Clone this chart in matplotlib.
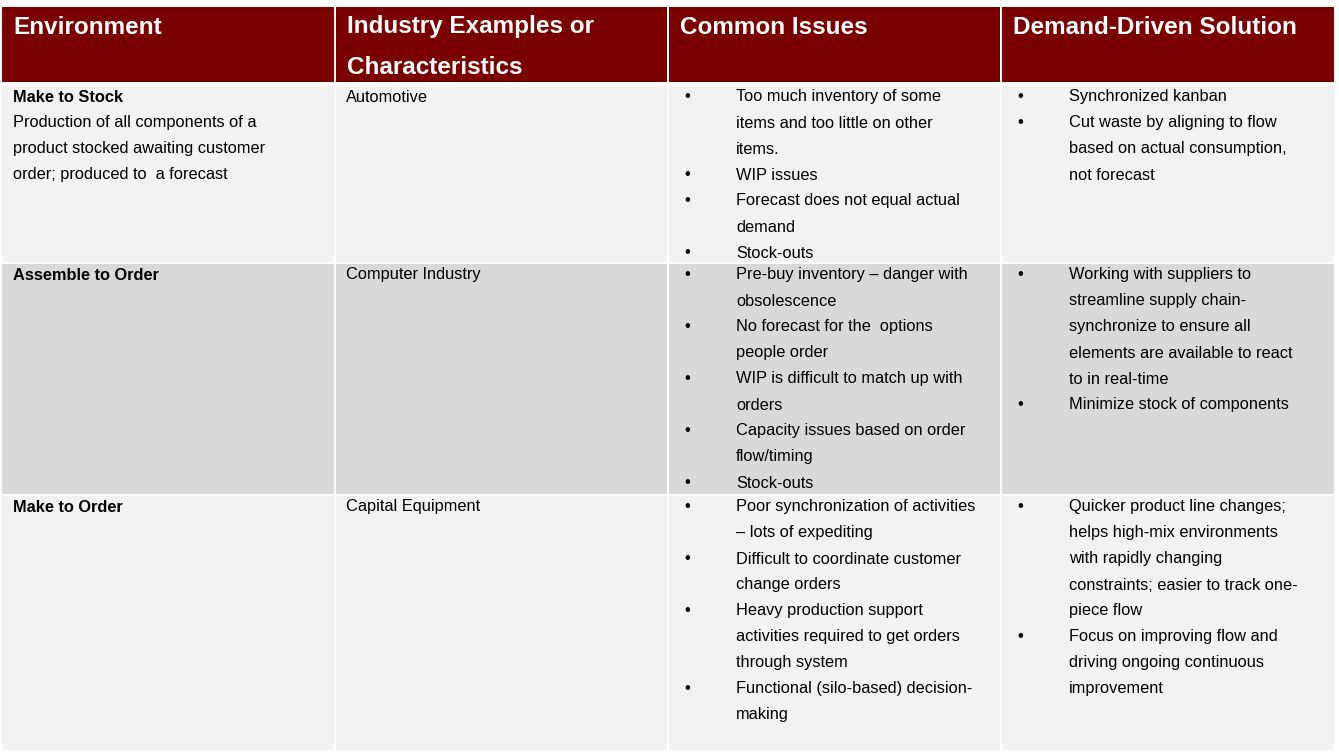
import matplotlib
matplotlib.use("Agg")
import matplotlib.pyplot as plt
from matplotlib.patches import Rectangle

headers = [["Environment"], ["Industry Examples or", "Characteristics"],
           ["Common Issues"], ["Demand-Driven Solution"]]

env_titles = ["Make to Stock", "Assemble to Order", "Make to Order"]
env_desc = [["Production of all components of a", "product stocked awaiting customer",
             "order; produced to  a forecast"], [], []]
industries = ["Automotive", "Computer Industry", "Capital Equipment"]
issues = [
    [["Too much inventory of some", "items and too little on other", "items."],
     ["WIP issues"], ["Forecast does not equal actual", "demand"], ["Stock-outs"]],
    [["Pre-buy inventory \u2013 danger with", "obsolescence"],
     ["No forecast for the  options", "people order"],
     ["WIP is difficult to match up with", "orders"],
     ["Capacity issues based on order", "flow/timing"], ["Stock-outs"]],
    [["Poor synchronization of activities", "\u2013 lots of expediting"],
     ["Difficult to coordinate customer", "change orders"],
     ["Heavy production support", "activities required to get orders", "through system"],
     ["Functional (silo-based) decision-", "making"]],
]
solutions = [
    [["Synchronized kanban"], ["Cut waste by aligning to flow", "based on actual consumption,", "not forecast"]],
    [["Working with suppliers to", "streamline supply chain-", "synchronize to ensure all",
      "elements are available to react", "to in real-time"], ["Minimize stock of components"]],
    [["Quicker product line changes;", "helps high-mix environments", "with rapidly changing",
      "constraints; easier to track one-", "piece flow"],
     ["Focus on improving flow and", "driving ongoing continuous", "improvement"]],
]

W, H = 1339, 755
fig = plt.figure(figsize=(W / 100, H / 100), dpi=100)
ax = fig.add_axes([0, 0, 1, 1])
ax.set_xlim(0, W); ax.set_ylim(H, 0); ax.axis("off")

FONT = "Liberation Sans"
cols = [(2, 334), (336, 667), (669, 1000), (1002, 1334)]
rows = [(86, 262), (264, 494), (496, 750)]
row_colors = ["#F2F2F2", "#D9D9D9", "#F2F2F2"]
hdr = "#7A0000"

for x0, x1 in cols:
    ax.add_patch(Rectangle((x0, 7), x1 - x0, 75, color=hdr, lw=0))
    for (y0, y1), c in zip(rows, row_colors):
        ax.add_patch(Rectangle((x0, y0), x1 - x0, y1 - y0, color=c, lw=0))

for (x0, _), lines in zip(cols, headers):
    for i, t in enumerate(lines):
        ax.text(x0 + 11, 27 + 40 * i, t, color="white", fontsize=17.5, fontweight="bold",
                family=FONT, va="center")

STEP = 26
fs = 11.8
for r, (y0, _) in enumerate(rows):
    ys = y0 + 11
    ax.text(13, ys, env_titles[r], fontsize=fs, fontweight="bold", family=FONT, va="center")
    for i, t in enumerate(env_desc[r]):
        ax.text(13, ys + STEP * (i + 1), t, fontsize=fs, family=FONT, va="center")
    ax.text(346, ys, industries[r], fontsize=fs, family=FONT, va="center")
    for items, bx, tx in [(issues[r], 684, 736), (solutions[r], 1017, 1069)]:
        k = 0
        for item in items:
            ax.text(bx, ys + STEP * k, "\u2022", fontsize=fs, family=FONT, va="center")
            for t in item:
                ax.text(tx, ys + STEP * k, t, fontsize=fs, family=FONT, va="center")
                k += 1

fig.savefig("out.png", dpi=100, facecolor="white")
